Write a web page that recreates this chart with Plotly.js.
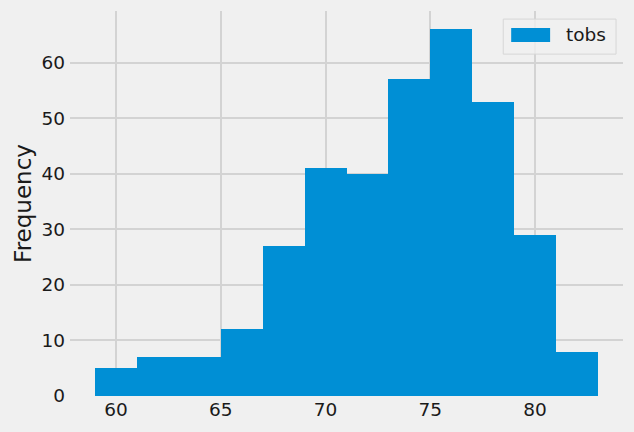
<!DOCTYPE html>
<html>
<head>
<meta charset="utf-8">
<script src="https://cdn.plot.ly/plotly-3.0.1.min.js"></script>
<style>
  html, body { margin: 0; padding: 0; background: #f0f0f0; }
  #chart { width: 634px; height: 432px; }
</style>
</head>
<body>
<div id="chart"></div>
<script>
// Histogram of temperature observations (tobs), 12 bins from 59 to 83
const binCenters = [60, 62, 64, 66, 68, 70, 72, 74, 76, 78, 80, 82];
const binWidth = 2;
const counts = [5, 7, 7, 12, 27, 41, 40, 57, 66, 53, 29, 8];
const seriesName = "tobs";
const xTicks = [60, 65, 70, 75, 80];
const yTicks = [0, 10, 20, 30, 40, 50, 60];

const barColor = "#008fd5";
const bg = "#f0f0f0";
const gridColor = "#d3d3d3";
const font = "DejaVu Sans, sans-serif";

const trace = {
  type: "bar",
  x: binCenters,
  y: counts,
  width: binCenters.map(() => binWidth),
  name: seriesName,
  marker: { color: barColor, line: { width: 0 } },
  hoverinfo: "x+y",
  showlegend: false
};

// Legend drawn as shapes + text (matplotlib-style wide patch)
const L = { x0: 0.7834, x1: 0.9874, y0: 0.888, y1: 0.979 };
const layout = {
  width: 634,
  height: 432,
  paper_bgcolor: bg,
  plot_bgcolor: bg,
  margin: { l: 70, r: 11, t: 11, b: 36 },
  bargap: 0,
  font: { family: font, color: "#000000", size: 18.5 },
  xaxis: {
    range: [57.8, 84.2],
    tickvals: xTicks,
    ticktext: xTicks.map(String),
    showgrid: true,
    gridcolor: gridColor,
    gridwidth: 1.5,
    zeroline: false,
    showline: false,
    ticks: "",
    tickfont: { size: 18.5, family: font, color: "#1a1a1a" },
    fixedrange: true
  },
  yaxis: {
    range: [0, 69.3],
    tickvals: yTicks,
    ticktext: yTicks.map(String),
    showgrid: true,
    gridcolor: gridColor,
    gridwidth: 1.5,
    zeroline: false,
    showline: false,
    ticks: "",
    ticklabelstandoff: 4,
    tickfont: { size: 18.5, family: font, color: "#1a1a1a" },
    title: { text: "Frequency", font: { size: 23, family: font, color: "#1a1a1a" }, standoff: 3 },
    fixedrange: true
  },
  shapes: [
    {
      type: "rect", xref: "paper", yref: "paper",
      x0: L.x0, x1: L.x1, y0: L.y0, y1: L.y1,
      fillcolor: "rgba(240,240,240,0.8)",
      line: { color: "#d6d6d6", width: 1 },
      layer: "above"
    },
    {
      type: "rect", xref: "paper", yref: "paper",
      x0: 0.7978, x1: 0.8682, y0: 0.9195, y1: 0.9558,
      fillcolor: barColor,
      line: { width: 0 },
      layer: "above"
    }
  ],
  annotations: [
    {
      xref: "paper", yref: "paper",
      x: 0.8935, y: 0.9377,
      xanchor: "left", yanchor: "middle",
      text: seriesName,
      showarrow: false,
      font: { size: 18.5, family: font, color: "#1a1a1a" }
    }
  ]
};

Plotly.newPlot("chart", [trace], layout, { displayModeBar: false, staticPlot: false });
</script>
</body>
</html>
